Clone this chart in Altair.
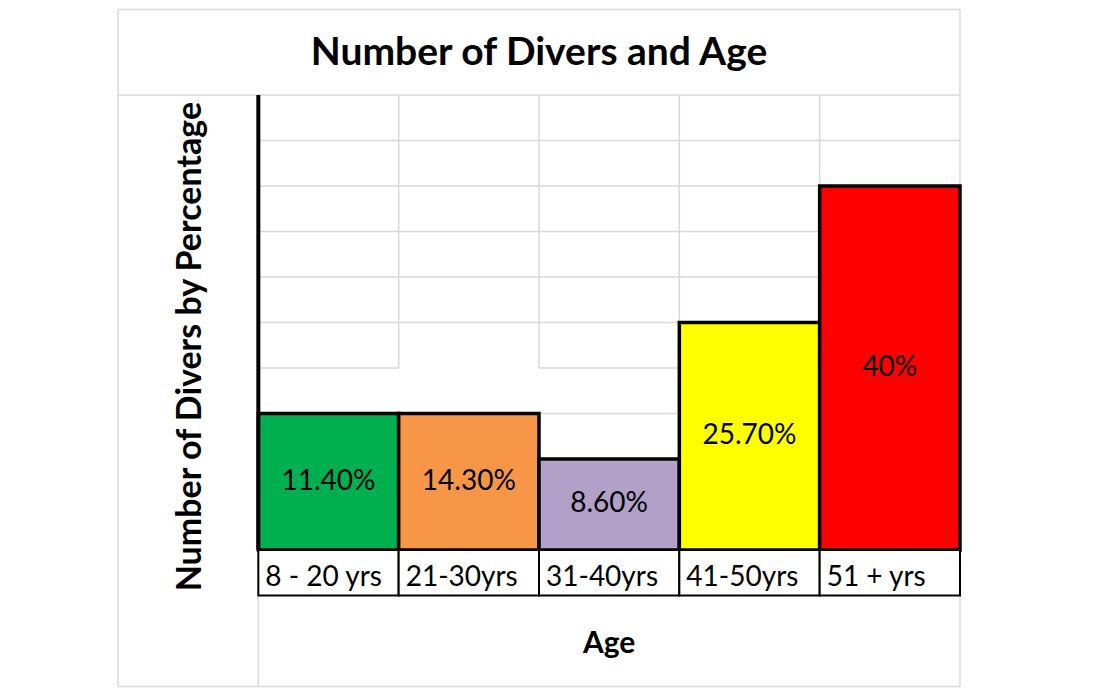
import altair as alt
import pandas as pd

# ---------------- data ----------------
categories = ["8 - 20 yrs", "21-30yrs", "31-40yrs", "41-50yrs", "51 + yrs"]
bar_heights = [3, 3, 2, 5, 8]          # bar heights as drawn (grid rows)
value_labels = ["11.40%", "14.30%", "8.60%", "25.70%", "40%"]
bar_colors = ["#00B050", "#F79646", "#B1A0C7", "#FFFF00", "#FF0000"]
chart_title = "Number of Divers and Age"
y_title = "Number of Divers by Percentage"
x_title = "Age"

# ---------------- layout (sheet cell coordinates) ----------------
FONT = "Lato"
GRID = "#d9d9d9"
X_DOM = [-1, 5]
Y_DOM = [-3.033, 11.912]
xs = alt.Scale(domain=X_DOM, nice=False, zero=False)
ys = alt.Scale(domain=Y_DOM, nice=False, zero=False)

n = len(categories)
bars = pd.DataFrame({
    "category": categories,
    "height": bar_heights,
    "label": value_labels,
    "color": bar_colors,
})
bars["col"] = range(n)
bars["col2"] = bars["col"] + 1
bars["xc"] = bars["col"] + 0.5
bars["mid"] = bars["height"] / 2
bars["zero"] = 0
bars["row"] = -1

# spreadsheet gridline segments (x, x2, y, y2)
segs = [
    (-1, 5, 10, 10),
    (0, 5, 9, 9), (0, 5, 8, 8), (0, 5, 7, 7), (0, 5, 6, 6), (0, 5, 5, 5),
    (0, 1, 4, 4), (2, 5, 4, 4), (2, 5, 3, 3),
    (1, 1, 4, 10), (2, 2, 4, 10), (3, 3, 0, 10), (4, 4, 0, 10),
    (0, 0, -3, 10),
    (-1, -1, -3, 11.88), (5, 5, -3, 11.88),
    (-1, 5, -3, -3), (-1, 5, 11.88, 11.88),
]
grid = pd.DataFrame(segs, columns=["x", "x2", "y", "y2"])

def X(f, **k):
    return alt.X(f, scale=xs, axis=None, **k)

def Y(f, **k):
    return alt.Y(f, scale=ys, axis=None, **k)

grid_layer = alt.Chart(grid).mark_rule(color=GRID, strokeWidth=1.5).encode(
    x=X("x:Q"), x2="x2:Q", y=Y("y:Q"), y2="y2:Q"
)

bar_layer = alt.Chart(bars).mark_rect(stroke="black", strokeWidth=3.5).encode(
    x=X("col:Q"), x2="col2:Q", y=Y("zero:Q"), y2="height:Q",
    color=alt.Color("color:N", scale=None),
)

cell_layer = alt.Chart(bars).mark_rect(
    fill="white", stroke="black", strokeWidth=2
).encode(x=X("col:Q"), x2="col2:Q", y=Y("row:Q"), y2="zero:Q")

axis_line = alt.Chart(pd.DataFrame({"x": [0], "y": [0], "y2": [10]})).mark_rule(
    color="black", strokeWidth=4
).encode(x=X("x:Q"), y=Y("y:Q"), y2="y2:Q")

value_text = alt.Chart(bars).mark_text(
    font=FONT, fontSize=28, baseline="middle", align="center", color="black"
).encode(x=X("xc:Q"), y=Y("mid:Q"), text="label:N")

cat_text = alt.Chart(bars).mark_text(
    font=FONT, fontSize=28, baseline="alphabetic", align="left", dx=7, dy=-9,
    color="black"
).encode(x=X("col:Q"), y=Y("row:Q"), text="category:N")

titles = pd.DataFrame({
    "text": [chart_title, y_title, x_title],
    "x": [2.0, -0.41, 2.5],
    "y": [10.66, 4.47, -2.264],
    "angle": [0, 270, 0],
    "size": [39, 34, 30],
})
title_text = alt.Chart(titles).mark_text(
    font=FONT, fontWeight="bold", baseline="alphabetic", align="center",
    color="black"
).encode(
    x=X("x:Q"), y=Y("y:Q"), text="text:N",
    angle=alt.Angle("angle:Q", scale=None),
    size=alt.Size("size:Q", scale=None),
)

chart = alt.layer(
    grid_layer, bar_layer, cell_layer, axis_line, value_text, cat_text, title_text
).properties(
    width=842, height=680,
    autosize=alt.AutoSizeParams(type="none"),
    padding={"left": 110, "top": 0, "right": 10, "bottom": 0},
    background="white",
).configure_view(strokeWidth=0)

chart.save("out.html", embed_options={"renderer": "svg", "actions": False})
